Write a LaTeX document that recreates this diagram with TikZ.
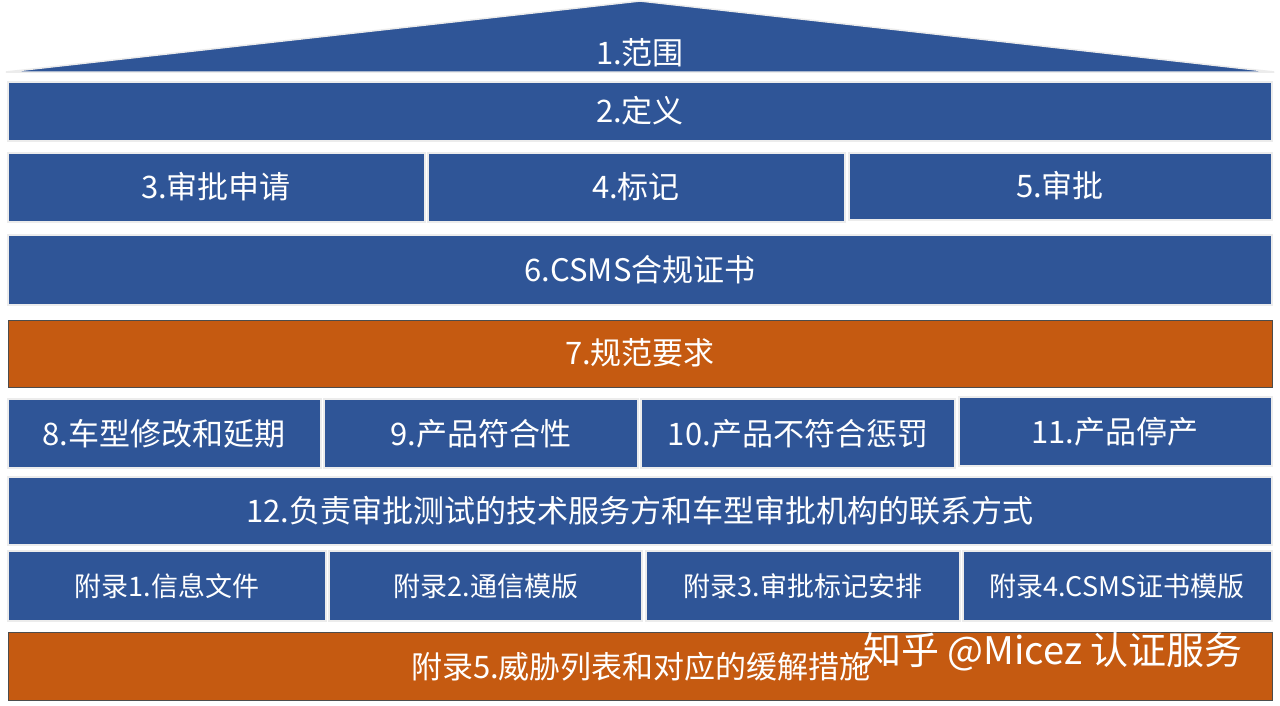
\documentclass[tikz,border=0pt]{standalone}
\usepackage{fontspec}
\setmainfont{Noto Sans CJK SC}
\begin{document}
\begin{tikzpicture}[x=1pt,y=-1pt,
  bb/.style={fill=blue1,draw=white!85!gray,line width=1.5pt},
  ob/.style={fill=orange1,draw=black!70,line width=1pt},
  lab/.style={text=white,font=\fontsize{31}{35}\selectfont},
  labs/.style={text=white,font=\fontsize{27}{31}\selectfont}]
\definecolor{blue1}{HTML}{2F5597}
\definecolor{orange1}{HTML}{C55A11}
\useasboundingbox (0,0) rectangle (1280,705);
\fill[white] (0,0) rectangle (1280,705);
\draw[bb] (6,72) -- (640,1) -- (1274,72) -- cycle;
\node[lab] (n1) at (640,53) {1.范围};
\draw[bb] (8,82) rectangle (1272,141); \node[lab] (n2) at (640,111) {2.定义};
\draw[bb] (8,153) rectangle (425,222); \node[lab] (n3) at (216,187) {3.审批申请};
\draw[bb] (428,153) rectangle (845,222); \node[lab] (n4) at (636,187) {4.标记};
\draw[bb] (849,153) rectangle (1272,220); \node[lab] (n5) at (1060,186) {5.审批};
\draw[bb] (8,235) rectangle (1272,305); \node[lab] (n6) at (640,270) {6.CSMS合规证书};
\draw[ob] (8,320) rectangle (1272,387); \node[lab] (n7) at (640,353) {7.规范要求};
\draw[bb] (8,399) rectangle (321,468); \node[lab] (n8) at (164,434) {8.车型修改和延期};
\draw[bb] (324,399) rectangle (638,468); \node[lab] (n9) at (481,434) {9.产品符合性};
\draw[bb] (641,399) rectangle (955,468); \node[lab] (n10) at (798,434) {10.产品不符合惩罚};
\draw[bb] (959,397) rectangle (1272,466); \node[lab] (n11) at (1115,432) {11.产品停产};
\draw[bb] (8,477) rectangle (1272,545); \node[lab] (n12) at (640,511) {12.负责审批测试的技术服务方和车型审批机构的联系方式};
\draw[bb] (8,551) rectangle (326,621); \node[labs] (a1) at (167,586) {附录1.信息文件};
\draw[bb] (329,551) rectangle (642,621); \node[labs] (a2) at (486,586) {附录2.通信模版};
\draw[bb] (646,551) rectangle (960,621); \node[labs] (a3) at (803,586) {附录3.审批标记安排};
\draw[bb] (963,551) rectangle (1272,621); \node[labs] (a4) at (1117,586) {附录4.CSMS证书模版};
\draw[ob] (8,632) rectangle (1272,700); \node[lab] (a5) at (641,667) {附录5.威胁列表和对应的缓解措施};
\node[text=white,font=\fontsize{38}{42}\selectfont] (wm) at (1053,652) {知乎 @Micez 认证服务};
\end{tikzpicture}
\end{document}
